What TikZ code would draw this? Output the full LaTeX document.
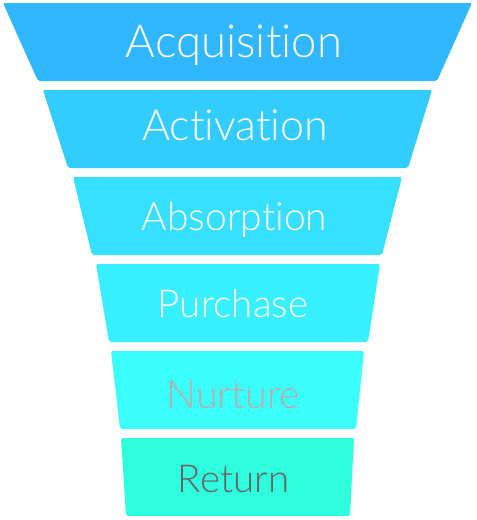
\documentclass[tikz,border=0pt]{standalone}
\usepackage{fontspec}
\newfontfamily\latolight{Lato Light}[Ligatures={NoCommon}]
\definecolor{cA}{RGB}{48,183,255}
\definecolor{cB}{RGB}{51,204,255}
\definecolor{cC}{RGB}{56,224,255}
\definecolor{cD}{RGB}{56,240,255}
\definecolor{cE}{RGB}{58,255,250}
\definecolor{cF}{RGB}{46,255,220}
\definecolor{tNur}{RGB}{190,172,172}
\definecolor{tRet}{RGB}{105,98,98}
\tikzset{
  band/.style={rounded corners=2pt},
  lbl/.style={font=\latolight\fontsize{#1}{#1}\selectfont, anchor=base, inner sep=0pt},
}
\begin{document}
\begin{tikzpicture}[x=1pt,y=-1pt]
\useasboundingbox (0,0) rectangle (477,520);
\fill[band,cA] (3,3) -- (472,3) -- (437,81) -- (38,81) -- cycle;
\fill[band,cB] (43,90) -- (432,90) -- (408,168) -- (68,168) -- cycle;
\fill[band,cC] (73,177) -- (402,177) -- (382,255) -- (92,255) -- cycle;
\fill[band,cD] (96,264) -- (380,264) -- (368,342) -- (109,342) -- cycle;
\fill[band,cE] (111,351) -- (364,351) -- (356,429) -- (120,429) -- cycle;
\fill[band,cF] (121,438) -- (354,438) -- (350,516) -- (126,516) -- cycle;
\node[lbl=45.5, text=white] (acq) at (234,57) {Acquisition};
\node[lbl=43, text=white] (act) at (235,140) {Activation};
\node[lbl=39, text=white] (abs) at (234.5,230) {Absorption};
\node[lbl=38.5, text=white] (pur) at (233,317) {Purchase};
\node[lbl=39.5, text=tNur] (nur) at (233.5,408) {Nurture};
\node[lbl=38.5, text=tRet] (ret) at (233.5,492) {Return};
\end{tikzpicture}
\end{document}
